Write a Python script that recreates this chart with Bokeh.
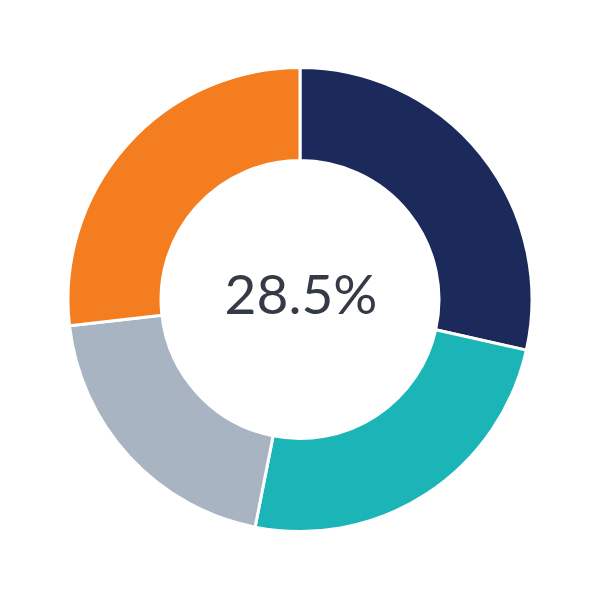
from math import pi
from bokeh.plotting import figure
from bokeh.models import ColumnDataSource, Range1d
from bokeh.core.properties import value
from bokeh.embed import file_html
from bokeh.resources import INLINE

categories = ["A", "B", "C", "D"]
values = [28.5, 24.6, 20.1, 26.8]
colors = ["#1b2a5a", "#1bb5b8", "#a9b4c2", "#f47d20"]
center_label = "28.5%"

W = H = 584
cx, cy = 299.5, 285.0
r_out, r_in = 232.0, 139.0

total = sum(values)
starts, ends = [], []
cum = 0.0
for v in values:
    starts.append(pi / 2 - cum / total * 2 * pi)
    cum += v
    ends.append(pi / 2 - cum / total * 2 * pi)

src = ColumnDataSource(dict(cat=categories, val=values, color=colors,
                            start=starts, end=ends,
                            x=[cx] * len(values), y=[cy] * len(values)))

p = figure(width=W, height=H, output_backend="svg", toolbar_location=None,
           x_range=Range1d(0, W), y_range=Range1d(0, H), min_border=0)
p.axis.visible = False
p.grid.visible = False
p.outline_line_color = None
p.background_fill_color = "white"

p.annular_wedge(x="x", y="y", inner_radius=r_in, outer_radius=r_out,
                start_angle="start", end_angle="end", direction="clock",
                fill_color="color", line_color="white", line_width=3, source=src)

p.text(x=[cx + 1], y=[292], text=[center_label], text_align="center",
       text_baseline="alphabetic", text_font=value("Lato"),
       text_font_size="55px", text_color="#343a46")

open("out.html", "w").write(file_html(p, INLINE))
